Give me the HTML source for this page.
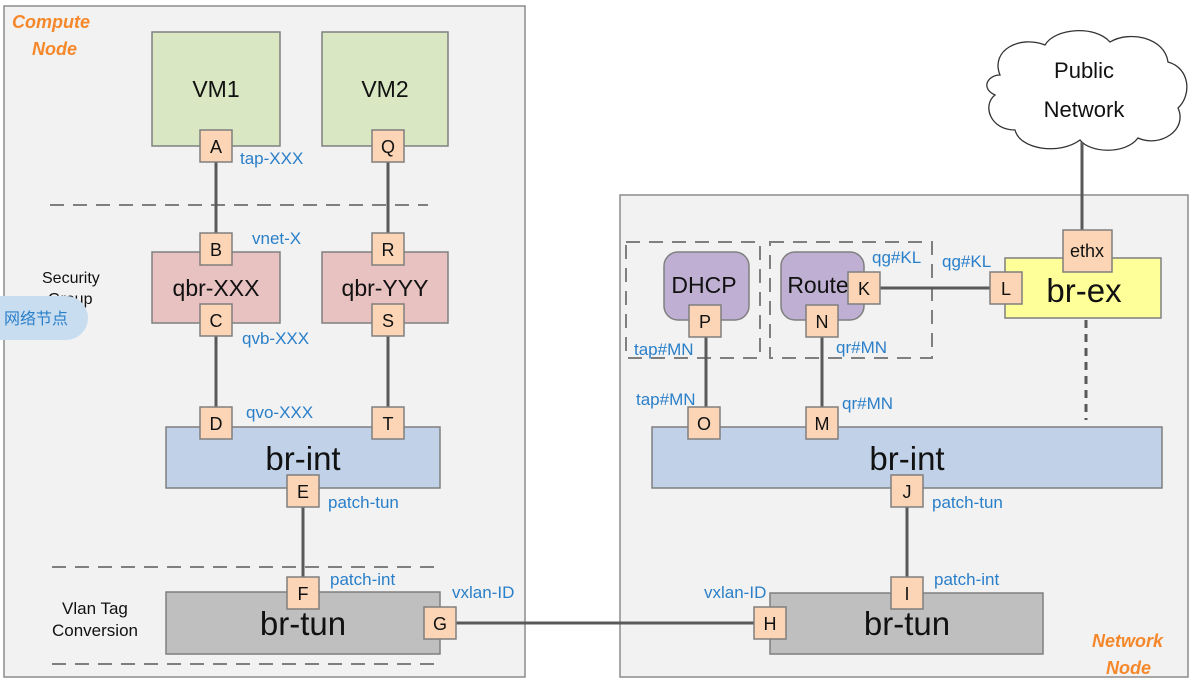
<!DOCTYPE html>
<html><head><meta charset="utf-8"><style>
html,body{margin:0;padding:0;background:#fff;}
svg{display:block;}
text{font-family:"Liberation Sans","Noto Sans CJK SC",sans-serif;}
.p{fill:#fbd5b5;stroke:#7f7f7f;stroke-width:1.5;}
.pt{font-size:18px;fill:#111;text-anchor:middle;}
.bl{font-size:17px;fill:#2a7fc9;}
.ln{stroke:#595959;stroke-width:3;fill:none;}
.ds{stroke:#7f7f7f;stroke-width:2;stroke-dasharray:14,9;fill:none;}
.big{font-size:33px;fill:#111;text-anchor:middle;}
.mid{font-size:23px;fill:#111;text-anchor:middle;}
.or{font-size:18px;fill:#f5882a;font-weight:bold;font-style:italic;}
</style></head><body>
<svg width="1193" height="679" viewBox="0 0 1193 679">
<rect x="4" y="6" width="521" height="671" fill="#f2f2f2" stroke="#8c8c8c" stroke-width="1.5"/>
<rect x="620" y="195" width="568" height="482" fill="#f2f2f2" stroke="#8c8c8c" stroke-width="1.5"/>
<text class="or" x="12" y="28">Compute</text>
<text class="or" x="32" y="55">Node</text>
<text class="or" x="1092" y="647">Network</text>
<text class="or" x="1106" y="674">Node</text>

<line class="ds" x1="50" y1="205" x2="428" y2="205"/>
<line class="ds" x1="52" y1="567" x2="440" y2="567"/>
<line class="ds" x1="52" y1="664" x2="440" y2="664"/>

<line class="ln" x1="216" y1="160" x2="216" y2="235"/>
<line class="ln" x1="388" y1="160" x2="388" y2="235"/>
<line class="ln" x1="216" y1="336" x2="216" y2="408"/>
<line class="ln" x1="388" y1="336" x2="388" y2="408"/>
<line class="ln" x1="303" y1="506" x2="303" y2="578"/>
<line class="ln" x1="456" y1="623" x2="755" y2="623"/>

<rect x="152" y="32" width="128" height="114" fill="#d9e7c3" stroke="#7f7f7f" stroke-width="1.5"/>
<rect x="322" y="32" width="126" height="114" fill="#d9e7c3" stroke="#7f7f7f" stroke-width="1.5"/>
<text class="mid" x="216" y="97" font-size="25">VM1</text>
<text class="mid" x="385" y="97" font-size="25">VM2</text>

<rect x="152" y="252" width="128" height="71" fill="#e8c1c1" stroke="#7f7f7f" stroke-width="1.5"/>
<rect x="322" y="252" width="126" height="71" fill="#e8c1c1" stroke="#7f7f7f" stroke-width="1.5"/>
<text class="mid" x="216" y="296">qbr-XXX</text>
<text class="mid" x="385" y="296">qbr-YYY</text>

<rect x="166" y="427" width="274" height="61" fill="#c0d1e8" stroke="#7f7f7f" stroke-width="1.5"/>
<text class="big" x="303" y="470">br-int</text>
<rect x="166" y="592" width="274" height="62" fill="#bfbfbf" stroke="#7f7f7f" stroke-width="1.5"/>
<text class="big" x="303" y="635">br-tun</text>

<text x="42" y="283" font-size="16" fill="#111">Security</text>
<text x="48" y="304" font-size="16" fill="#111">Group</text>
<rect x="-20" y="296" width="108" height="44" rx="22" fill="#c9ddf0"/>
<text x="4" y="324" font-size="16" fill="#2a7fc9">网络节点</text>
<text x="62" y="614" font-size="17" fill="#111">Vlan Tag</text>
<text x="52" y="636" font-size="17" fill="#111">Conversion</text>

<rect class="p" x="200" y="130" width="32" height="32"/><text class="pt" x="216" y="153">A</text>
<rect class="p" x="372" y="130" width="32" height="32"/><text class="pt" x="388" y="153">Q</text>
<rect class="p" x="200" y="233" width="32" height="32"/><text class="pt" x="216" y="256">B</text>
<rect class="p" x="372" y="233" width="32" height="32"/><text class="pt" x="388" y="256">R</text>
<rect class="p" x="200" y="304" width="32" height="32"/><text class="pt" x="216" y="327">C</text>
<rect class="p" x="372" y="304" width="32" height="32"/><text class="pt" x="388" y="327">S</text>
<rect class="p" x="200" y="407" width="32" height="32"/><text class="pt" x="216" y="430">D</text>
<rect class="p" x="372" y="407" width="32" height="32"/><text class="pt" x="388" y="430">T</text>
<rect class="p" x="287" y="475" width="32" height="32"/><text class="pt" x="303" y="498">E</text>
<rect class="p" x="287" y="577" width="32" height="32"/><text class="pt" x="303" y="600">F</text>
<rect class="p" x="424" y="607" width="32" height="32"/><text class="pt" x="440" y="630">G</text>

<text class="bl" x="240" y="164">tap-XXX</text>
<text class="bl" x="252" y="244">vnet-X</text>
<text class="bl" x="242" y="344">qvb-XXX</text>
<text class="bl" x="246" y="418">qvo-XXX</text>
<text class="bl" x="328" y="508">patch-tun</text>
<text class="bl" x="330" y="585">patch-int</text>
<text class="bl" x="452" y="598">vxlan-ID</text>

<path d="M1000,75 C990,50 1020,35 1045,45 C1055,28 1095,25 1110,42 C1130,30 1165,38 1168,62 C1190,68 1192,95 1178,108 C1188,130 1160,148 1138,138 C1125,155 1090,153 1080,140 C1060,155 1020,150 1015,130 C990,130 982,105 995,95 C980,88 988,75 1000,75 Z" fill="#fff" stroke="#333" stroke-width="1.3"/>
<text x="1084" y="78" font-size="22" fill="#111" text-anchor="middle">Public</text>
<text x="1084" y="117" font-size="22" fill="#111" text-anchor="middle">Network</text>
<line class="ln" x1="1082" y1="142" x2="1082" y2="232"/>

<rect x="626" y="242" width="134" height="116" class="ds"/>
<rect x="770" y="242" width="162" height="116" class="ds"/>

<line class="ln" x1="706" y1="336" x2="706" y2="408"/>
<line class="ln" x1="822" y1="336" x2="822" y2="408"/>
<line class="ln" x1="880" y1="288" x2="990" y2="288"/>
<line class="ln" x1="907" y1="506" x2="907" y2="578"/>
<line x1="1086" y1="320" x2="1086" y2="420" stroke="#595959" stroke-width="3" stroke-dasharray="8,6"/>

<rect x="664" y="252" width="85" height="68" rx="14" fill="#bfb0d3" stroke="#7f7f7f" stroke-width="1.5"/>
<text class="mid" x="704" y="293" font-size="20">DHCP</text>
<rect x="781" y="252" width="83" height="68" rx="14" fill="#bfb0d3" stroke="#7f7f7f" stroke-width="1.5"/>
<text class="mid" x="818" y="293" font-size="20">Route</text>

<rect x="1005" y="258" width="156" height="60" fill="#ffff99" stroke="#7f7f7f" stroke-width="1.5"/>
<text class="big" x="1084" y="302">br-ex</text>
<rect class="p" x="1063" y="230" width="49" height="42"/><text class="pt" x="1087" y="257" font-size="16">ethx</text>

<rect x="652" y="427" width="510" height="61" fill="#c0d1e8" stroke="#7f7f7f" stroke-width="1.5"/>
<text class="big" x="907" y="470">br-int</text>
<rect x="770" y="593" width="273" height="61" fill="#bfbfbf" stroke="#7f7f7f" stroke-width="1.5"/>
<text class="big" x="907" y="635">br-tun</text>

<rect class="p" x="689" y="305" width="32" height="32"/><text class="pt" x="705" y="328">P</text>
<rect class="p" x="806" y="305" width="32" height="32"/><text class="pt" x="822" y="328">N</text>
<rect class="p" x="848" y="272" width="32" height="32"/><text class="pt" x="864" y="295">K</text>
<rect class="p" x="990" y="272" width="32" height="32"/><text class="pt" x="1006" y="295">L</text>
<rect class="p" x="688" y="407" width="32" height="32"/><text class="pt" x="704" y="430">O</text>
<rect class="p" x="806" y="407" width="32" height="32"/><text class="pt" x="822" y="430">M</text>
<rect class="p" x="891" y="475" width="32" height="32"/><text class="pt" x="907" y="498">J</text>
<rect class="p" x="891" y="577" width="32" height="32"/><text class="pt" x="907" y="600">I</text>
<rect class="p" x="754" y="607" width="32" height="32"/><text class="pt" x="770" y="630">H</text>

<text class="bl" x="872" y="263">qg#KL</text>
<text class="bl" x="942" y="267">qg#KL</text>
<text class="bl" x="634" y="355">tap#MN</text>
<text class="bl" x="836" y="353">qr#MN</text>
<text class="bl" x="636" y="405">tap#MN</text>
<text class="bl" x="842" y="409">qr#MN</text>
<text class="bl" x="932" y="508">patch-tun</text>
<text class="bl" x="934" y="585">patch-int</text>
<text class="bl" x="704" y="598">vxlan-ID</text>
</svg>
</body></html>
